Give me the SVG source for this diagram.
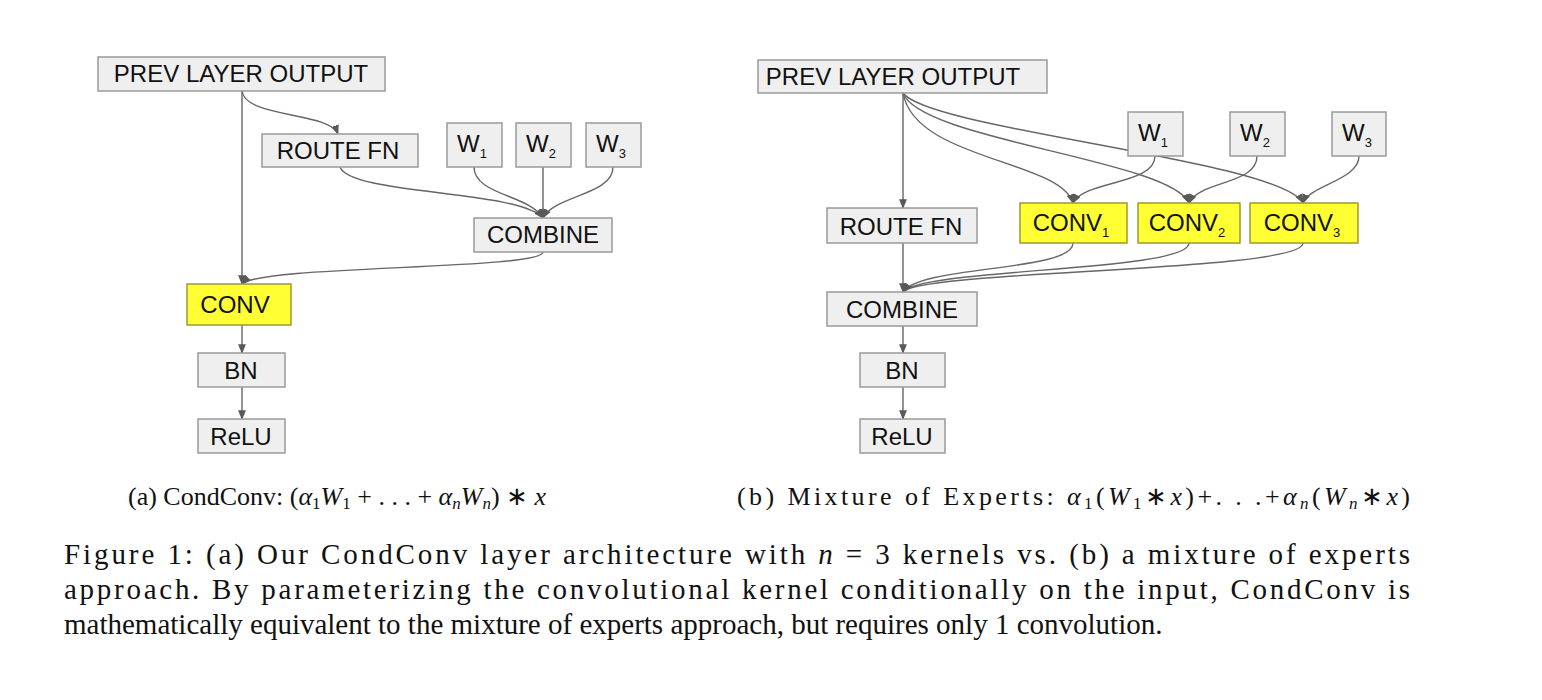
<svg xmlns="http://www.w3.org/2000/svg" width="1542" height="700" viewBox="0 0 1542 700">
<defs>
<marker id="ah" viewBox="0 0 10 10" refX="9" refY="5" markerWidth="7" markerHeight="7" orient="auto"><path d="M0,1 L10,5 L0,9 z" fill="#595959"/></marker>
<style>
.b{fill:#efefef;stroke:#9a9a9a;stroke-width:1.5}
.y{fill:#ffff33;stroke:#9a9a33;stroke-width:1.5}
.t{font-family:"Liberation Sans",Arial,sans-serif;font-size:24px;fill:#111;text-anchor:middle}
.s{font-size:13px}
.c path{fill:none;stroke:#666;stroke-width:1.4;marker-end:url(#ah)}
.cap{font-family:"Liberation Serif","Times New Roman",serif;font-size:26px;fill:#111}
.fig{font-family:"Liberation Serif","Times New Roman",serif;font-size:29px;fill:#111}
</style>
</defs>
<rect width="1542" height="700" fill="#fff"/>
<g class="c">
<path d="M242,91 V284"/>
<path d="M242,91 C245,118 330,112 338,134"/>
<path d="M340,167 C350,195 520,190 543,218"/>
<path d="M474,167 C474,195 530,195 543,218"/>
<path d="M543,167 V218"/>
<path d="M613,167 C613,195 555,195 543,218"/>
<path d="M543,252 C543,270 260,265 242,284"/>
<path d="M242,325 V353"/>
<path d="M242,387 V419"/>
<path d="M903,93 V208"/>
<path d="M903,93 C915,160 1060,160 1073,203"/>
<path d="M903,93 C920,140 1170,160 1189,203"/>
<path d="M903,93 C930,130 1280,160 1303,203"/>
<path d="M1155,156 C1155,185 1085,180 1073,203"/>
<path d="M1257,156 C1257,185 1200,180 1189,203"/>
<path d="M1359,156 C1359,180 1310,185 1303,203"/>
<path d="M903,243 V292"/>
<path d="M1073,243 C1073,272 920,265 903,292"/>
<path d="M1189,243 C1189,272 920,268 903,292"/>
<path d="M1303,243 C1303,272 920,270 903,292"/>
<path d="M903,326 V353"/>
<path d="M903,387 V419"/>
</g>
<g id="a-prev"><rect class="b" x="98" y="57" width="287" height="34"/><text class="t" x="241" y="82">PREV LAYER OUTPUT</text></g>
<g id="a-route"><rect class="b" x="262" y="134" width="156" height="33"/><text class="t" x="338" y="159">ROUTE FN</text></g>
<g id="a-w1"><rect class="b" x="447" y="123" width="55" height="44"/><text class="t" x="472" y="152">W<tspan class="s" dy="6">1</tspan></text></g>
<g id="a-w2"><rect class="b" x="516" y="123" width="55" height="44"/><text class="t" x="541" y="152">W<tspan class="s" dy="6">2</tspan></text></g>
<g id="a-w3"><rect class="b" x="586" y="123" width="55" height="44"/><text class="t" x="611" y="152">W<tspan class="s" dy="6">3</tspan></text></g>
<g id="a-combine"><rect class="b" x="474" y="218" width="138" height="34"/><text class="t" x="543" y="243">COMBINE</text></g>
<g id="a-conv"><rect class="y" x="187" y="284" width="104" height="41"/><text class="t" x="235" y="313">CONV</text></g>
<g id="a-bn"><rect class="b" x="198" y="353" width="87" height="34"/><text class="t" x="241" y="379">BN</text></g>
<g id="a-relu"><rect class="b" x="198" y="419" width="87" height="34"/><text class="t" x="241" y="445">ReLU</text></g>
<g id="b-prev"><rect class="b" x="758" y="60" width="289" height="33"/><text class="t" x="893" y="85">PREV LAYER OUTPUT</text></g>
<g id="b-w1"><rect class="b" x="1128" y="112" width="55" height="44"/><text class="t" x="1153" y="141">W<tspan class="s" dy="6">1</tspan></text></g>
<g id="b-w2"><rect class="b" x="1230" y="112" width="55" height="44"/><text class="t" x="1255" y="141">W<tspan class="s" dy="6">2</tspan></text></g>
<g id="b-w3"><rect class="b" x="1332" y="112" width="54" height="44"/><text class="t" x="1357" y="141">W<tspan class="s" dy="6">3</tspan></text></g>
<g id="b-route"><rect class="b" x="827" y="208" width="150" height="35"/><text class="t" x="901" y="235">ROUTE FN</text></g>
<g id="b-conv1"><rect class="y" x="1020" y="203" width="107" height="40"/><text class="t" x="1071" y="231">CONV<tspan class="s" dy="6">1</tspan></text></g>
<g id="b-conv2"><rect class="y" x="1138" y="203" width="102" height="40"/><text class="t" x="1187" y="231">CONV<tspan class="s" dy="6">2</tspan></text></g>
<g id="b-conv3"><rect class="y" x="1250" y="203" width="108" height="40"/><text class="t" x="1302" y="231">CONV<tspan class="s" dy="6">3</tspan></text></g>
<g id="b-combine"><rect class="b" x="827" y="292" width="150" height="34"/><text class="t" x="902" y="318">COMBINE</text></g>
<g id="b-bn"><rect class="b" x="860" y="353" width="85" height="34"/><text class="t" x="902" y="379">BN</text></g>
<g id="b-relu"><rect class="b" x="860" y="419" width="85" height="34"/><text class="t" x="902" y="445">ReLU</text></g>
<text class="cap" x="128" y="505">(a)  CondConv: (<tspan font-style="italic">α</tspan><tspan font-size="17" dy="4">1</tspan><tspan font-style="italic" dy="-4">W</tspan><tspan font-size="17" dy="4">1</tspan><tspan dy="-4"> + . . . + </tspan><tspan font-style="italic">α</tspan><tspan font-size="17" font-style="italic" dy="4">n</tspan><tspan font-style="italic" dy="-4">W</tspan><tspan font-size="17" font-style="italic" dy="4">n</tspan><tspan dy="-4">) ∗ </tspan><tspan font-style="italic">x</tspan></text>
<text class="cap" x="737" y="505" textLength="673" lengthAdjust="spacing">(b)  Mixture of Experts: <tspan font-style="italic">α</tspan><tspan font-size="17" dy="4">1</tspan><tspan dy="-4">(</tspan><tspan font-style="italic">W</tspan><tspan font-size="17" dy="4">1</tspan><tspan dy="-4">∗</tspan><tspan font-style="italic">x</tspan>)+. . .+<tspan font-style="italic">α</tspan><tspan font-size="17" font-style="italic" dy="4">n</tspan><tspan dy="-4">(</tspan><tspan font-style="italic">W</tspan><tspan font-size="17" font-style="italic" dy="4">n</tspan><tspan dy="-4">∗</tspan><tspan font-style="italic">x</tspan>)</text>
<text class="fig" x="64" y="564" textLength="1346" lengthAdjust="spacing">Figure 1: (a) Our CondConv layer architecture with <tspan font-style="italic">n</tspan> = 3 kernels vs. (b) a mixture of experts</text>
<text class="fig" x="64" y="599" textLength="1346" lengthAdjust="spacing">approach.  By parameterizing the convolutional kernel conditionally on the input, CondConv is</text>
<text class="fig" x="64" y="634">mathematically equivalent to the mixture of experts approach, but requires only 1 convolution.</text>
</svg>
